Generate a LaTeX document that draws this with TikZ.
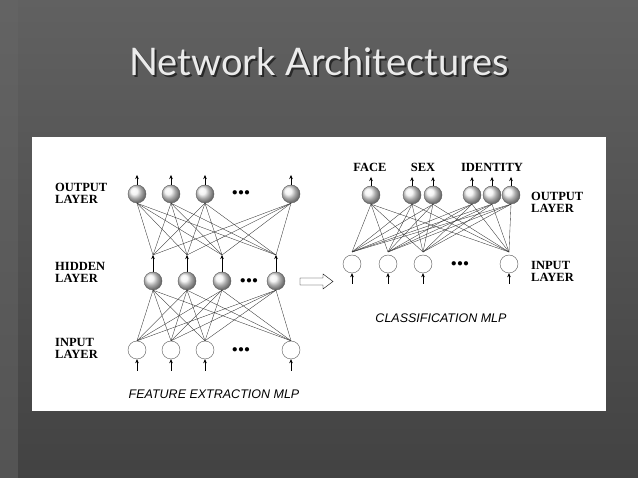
\documentclass[tikz,border=0pt]{standalone}
\usepackage{fontspec}
\setmainfont{Liberation Serif}
\newfontfamily\titlefont{Lato}
\newfontfamily\capfont{Liberation Sans}
\usetikzlibrary{arrows.meta}
\begin{document}
\begin{tikzpicture}[x=1pt,y=-1pt,
  unit/.style={circle,draw=gray!70!black,line width=0.4pt,minimum size=18pt,inner sep=0pt},
  full/.style={unit,shading=ball,ball color=gray!12},
  empty/.style={unit,fill=white},
  conn/.style={line width=0.35pt,black!80},
  tip/.style={line width=0.4pt,-{Stealth[length=4pt,width=3.5pt]}},
  lab/.style={font=\bfseries\fontsize{12.5}{12}\selectfont,align=left,anchor=west,inner sep=0pt},
  top/.style={font=\bfseries\fontsize{12.5}{12}\selectfont},
  dots/.style={font=\bfseries\fontsize{11}{11}\selectfont},
  captext/.style={font=\capfont\itshape\fontsize{12.5}{12}\selectfont}]
\useasboundingbox (0,0) rectangle (638,478);
\shade[top color=black!62,bottom color=black!74] (0,0) rectangle (638,478);
\fill[black!60,opacity=0.5] (0,0) rectangle (18,478);
\node[font=\titlefont\fontsize{38}{38}\selectfont,text=black,opacity=0.55] (tshadow) at (321,64) {Network Architectures};
\node[font=\titlefont\fontsize{38}{38}\selectfont,text=black!8] (title) at (319,62) {Network Architectures};
\fill[white] (32,137) rectangle (606,411);
% left network
\foreach \n/\x in {1/137,2/171,3/205,4/291}{
  \node[full] (o\n) at (\x,194) {};
  \coordinate (ot\n) at (\x,175);
  \draw[tip] (o\n.north) -- (ot\n);
  \node[empty] (i\n) at (\x,350) {};
  \coordinate (ib\n) at (\x,371);
  \draw[tip] (ib\n) -- (i\n.south);
}
\foreach \n/\x in {1/153,2/187,3/222,4/276}{
  \node[full] (h\n) at (\x,281) {};
  \coordinate (c\n) at (\x,255);
  \draw[tip] (h\n.north) -- (c\n);
}
\foreach \a in {1,2,3,4}{\foreach \b in {1,2,3,4}{
  \draw[conn] (o\a.south) -- (c\b);
  \draw[conn] (h\a.south) -- (i\b.north);
}}
\node[dots] (d1) at (241,193) {$\bullet\!\bullet\!\bullet$};
\node[dots] (d2) at (249,281) {$\bullet\!\bullet\!\bullet$};
\node[dots] (d3) at (241,350) {$\bullet\!\bullet\!\bullet$};
\node[lab] (l1) at (55,193) {OUTPUT\\LAYER};
\node[lab] (l2) at (55,272) {HIDDEN\\LAYER};
\node[lab] (l3) at (55,348) {INPUT\\LAYER};
\node[captext] (cap1) at (214,394) {FEATURE EXTRACTION MLP};
% hollow arrow
\draw[line width=0.4pt,fill=white] (300,278) -- (323,278) -- (323,274) -- (333,281.5) -- (323,289) -- (323,285) -- (300,285) -- cycle;
% right network
\foreach \n/\x in {1/352,2/388,3/423,4/509}{
  \node[empty] (r\n) at (\x,264) {};
  \coordinate (rc\n) at (\x,252);
  \coordinate (rb\n) at (\x,284);
  \draw[tip] (rb\n) -- (r\n.south);
}
\foreach \n/\x in {1/371,2/412,3/433,4/472,5/492,6/511}{
  \node[full] (p\n) at (\x,195) {};
  \coordinate (pt\n) at (\x,177);
  \draw[tip] (p\n.north) -- (pt\n);
  \foreach \b in {1,2,3,4}{\draw[conn] (p\n.south) -- (rc\b);}
}
\node[dots] (d4) at (460,264) {$\bullet\!\bullet\!\bullet$};
\node[top] (face) at (370,167) {FACE};
\node[top] (sex) at (423,167) {SEX};
\node[top] (idt) at (492,167) {IDENTITY};
\node[lab] (l4) at (531,202) {OUTPUT\\LAYER};
\node[lab] (l5) at (531,271) {INPUT\\LAYER};
\node[captext] (cap2) at (441,318) {CLASSIFICATION MLP};
\end{tikzpicture}
\end{document}
